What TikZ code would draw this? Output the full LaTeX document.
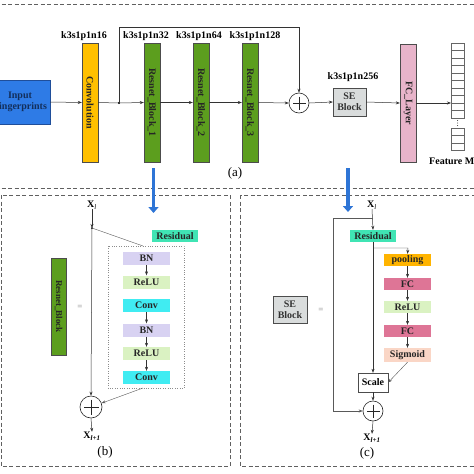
\documentclass[tikz,border=0pt]{standalone}
\usepackage{fontspec}
\setmainfont{Liberation Serif}
\usetikzlibrary{arrows.meta,calc}
\definecolor{inpblue}{HTML}{2E7BE6}
\definecolor{inpdark}{HTML}{1F4E9A}
\definecolor{convyel}{HTML}{FFC000}
\definecolor{resgreen}{HTML}{5C9E1E}
\definecolor{fcpink}{HTML}{E8B4CA}
\definecolor{segray}{HTML}{D9DCDC}
\definecolor{resteal}{HTML}{40E4B4}
\definecolor{bnlav}{HTML}{D8D2F2}
\definecolor{relugreen}{HTML}{DAF2C2}
\definecolor{convcyan}{HTML}{40ECF2}
\definecolor{poolor}{HTML}{FFB400}
\definecolor{fcrose}{HTML}{DE7596}
\definecolor{sigpeach}{HTML}{FAD6C6}
\definecolor{bluearr}{HTML}{2E75D6}
\definecolor{dashgray}{HTML}{606060}
\tikzset{
  txt/.style={font=\fontsize{10}{11}\selectfont\bfseries, inner sep=0pt},
  box/.style={draw, rectangle, inner sep=0pt, font=\fontsize{10}{11}\selectfont\bfseries, align=center},
  vbox/.style={box, draw=black!70},
  sbox/.style={rectangle, inner sep=0pt, minimum width=47pt, font=\fontsize{10}{11}\selectfont\bfseries, text=black!85},
  arr/.style={-{Stealth[length=4pt,width=3pt]}, line width=0.5pt, black!80},
  ln/.style={line width=0.5pt, black!80},
  thinln/.style={line width=0.4pt, black!65},
  oplus/.style={circle, draw=black!85, line width=0.6pt, minimum size=#1, inner sep=0pt,
    path picture={
      \draw[line width=0.7pt] ([yshift=-3.5pt]path picture bounding box.north) -- ([yshift=3.5pt]path picture bounding box.south);
      \draw[line width=0.7pt] ([xshift=-3.5pt]path picture bounding box.east) -- ([xshift=3.5pt]path picture bounding box.west);
    }},
  panel/.style={draw=dashgray, line width=0.6pt, dash pattern=on 4pt off 2.5pt},
  bigarr/.style={draw=bluearr, line width=3.5pt, -{Triangle[length=6pt,width=10pt]}},
  dot/.style={circle, fill=black, inner sep=0pt, minimum size=2.4pt},
}
\begin{document}
\begin{tikzpicture}[x=1pt, y=-1pt]
\useasboundingbox (0,0) rectangle (474,474);
\clip (0,0) rectangle (474,474);
\fill[white] (0,0) rectangle (474,474);

% panels
\draw[panel] (-5,4) -- (480,4);
\draw[panel] (-5,188) -- (480,188);
\draw[panel] (1,195) rectangle (230,466);
\draw[panel] (240,195) rectangle (480,466);

% ---------- panel (a) ----------
\node[box, fill=inpblue, draw=inpdark, minimum width=60pt, minimum height=44pt, text=inpdark!60!black] (inp) at (20,102) {Input\\Fingerprints};
\node[vbox, fill=convyel, minimum width=16pt, minimum height=119pt] (conv) at (90,102.5) {};
\node[rotate=-90, txt, text=black!85] at (conv.center) {Convolution};
\node[vbox, fill=resgreen, minimum width=16pt, minimum height=119pt] (rb1) at (152,102.5) {};
\node[rotate=-90, txt, text=black!85] at (rb1.center) {Resnet\_Block\_1};
\node[vbox, fill=resgreen, minimum width=16pt, minimum height=119pt] (rb2) at (201,102.5) {};
\node[rotate=-90, txt, text=black!85] at (rb2.center) {Resnet\_Block\_2};
\node[vbox, fill=resgreen, minimum width=16pt, minimum height=119pt] (rb3) at (250,102.5) {};
\node[rotate=-90, txt, text=black!85] at (rb3.center) {Resnet\_Block\_3};
\node[oplus=20pt] (pa) at (299,103) {};
\node[box, fill=segray, draw=black!70, minimum width=33pt, minimum height=28pt, text=black!80] (se) at (349.5,102) {SE\\Block};
\node[vbox, fill=fcpink, minimum width=16pt, minimum height=118pt] (fc) at (408,103) {};
\node[rotate=-90, txt, text=black!85] at (fc.center) {FC\_Layer};

\node[txt] (l16) at (84,36) {k3s1p1n16};
\node[txt] (l32) at (146,36) {k3s1p1n32};
\node[txt] (l64) at (199,36) {k3s1p1n64};
\node[txt] (l128) at (255,36) {k3s1p1n128};
\node[txt] (l256) at (353,77) {k3s1p1n256};
\node[txt, anchor=west] (fml) at (429,162) {Feature Map};
\node[inner sep=0pt, font=\fontsize{13}{14}\selectfont] (la) at (235,173) {(a)};

% feature map column
\foreach \i in {0,...,9} {
  \draw[black!60, line width=0.4pt] (451,43+7.5*\i) rectangle (464,43+7.5*\i+7.5);
}
\foreach \i in {0,...,2} {
  \draw[black!60, line width=0.4pt] (451,128+7.4*\i) rectangle (464,128+7.4*\i+7.4);
}
\foreach \yy in {120.5,123,125.5} {
  \fill[black!80] (457.5,\yy) circle (0.5pt);
}
\coordinate (fm) at (451,103);

% connectors (a)
\draw[arr] (inp.east) -- (conv.west);
\coordinate (br) at (119,103);
\coordinate (topc) at (119,27);
\draw[ln] (conv.east) -- (br);
\draw[arr] (br) -- (rb1.west);
\node[dot] at (br) {};
\draw[arr] (br) -- (topc) -| (pa.north);
\draw[arr] (rb1.east) -- (rb2.west);
\draw[arr] (rb2.east) -- (rb3.west);
\draw[arr] (rb3.east) -- (pa.west);
\draw[arr] (pa.east) -- (se.west);
\draw[arr] (se.east) -- (fc.west);
\draw[arr] (fc.east) -- (fm);

% blue arrows
\coordinate (ba1) at (153.5,168);
\coordinate (ba1e) at (153.5,213);
\coordinate (ba2) at (348,168);
\coordinate (ba2e) at (348,212);
\draw[bigarr] (ba1) -- (ba1e);
\draw[bigarr] (ba2) -- (ba2e);

% ---------- panel (b) ----------
\node[inner sep=0pt, font=\fontsize{10}{11}\selectfont] (xb1) at (92,205) {\textbf{X}\textsubscript{\textit{l}}};
\coordinate (b1) at (92,228);
\node[oplus=22pt] (pb) at (91,407) {};
\draw[arr] (xb1.south) -- (b1);
\node[dot, minimum size=2pt] at (b1) {};
\draw[arr] (b1) -- (pb.north);
\draw[thinln, dotted, line width=0.6pt, black!45] (108,246) rectangle (184,388);
\coordinate (dbt) at (143,246);
\coordinate (dbb) at (143,388);
\node[sbox, fill=resteal, minimum width=46pt, minimum height=12pt] (resb) at (175,236) {Residual};
\node[sbox, fill=bnlav, minimum height=13pt] (bn1) at (146.5,258.5) {BN};
\node[sbox, fill=relugreen, minimum height=13pt] (re1) at (146.5,282) {ReLU};
\node[sbox, fill=convcyan, minimum height=13pt] (cv1) at (146.5,305.5) {Conv};
\node[sbox, fill=bnlav, minimum height=13pt] (bn2) at (146.5,330) {BN};
\node[sbox, fill=relugreen, minimum height=13pt] (re2) at (146.5,353.5) {ReLU};
\node[sbox, fill=convcyan, minimum height=13pt] (cv2) at (146.5,377.5) {Conv};
\draw[arr, line width=0.4pt] (bn1.south) -- (re1.north);
\draw[arr, line width=0.4pt] (cv1.south) -- (bn2.north);
\draw[arr, line width=0.4pt] (bn2.south) -- (re2.north);
\draw[arr, line width=0.4pt] (re2.south) -- (cv2.north);
\draw[thinln] (b1) -- (dbt);
\draw[arr, black!65, line width=0.4pt] (dbb) -- (pb.20);
\node[vbox, fill=resgreen, minimum width=15pt, minimum height=97pt] (rbk) at (58.5,306.5) {};
\node[rotate=-90, txt, text=black!85, font=\fontsize{9}{10}\selectfont\bfseries] at (rbk.center) {Resnet\_Block};
\node[inner sep=0pt, text=black!50, font=\fontsize{9}{10}\selectfont] (eqb) at (80,307) {=};
\node[inner sep=0pt, font=\fontsize{10}{11}\selectfont] (xb2) at (92,436) {\textbf{X}\textsubscript{\textbf{\textit{l+1}}}};
\draw[arr] (pb.south) -- (xb2.north);
\node[inner sep=0pt, font=\fontsize{13}{14}\selectfont] (lb) at (105,452) {(b)};

% ---------- panel (c) ----------
\node[inner sep=0pt, font=\fontsize{10}{11}\selectfont] (xc1) at (372,205) {\textbf{X}\textsubscript{\textit{l}}};
\node[sbox, fill=resteal, minimum width=46pt, minimum height=12pt] (resc) at (373,236) {Residual};
\coordinate (c1) at (373,218);
\coordinate (cl1) at (333,218);
\coordinate (cl2) at (333,411);
\node[oplus=20pt] (pc) at (373,411) {};
\draw[arr] (xc1.south) -- (resc.north);
\draw[thinln] (c1) -- (cl1) -- (cl2);
\draw[arr, black!65, line width=0.4pt] (cl2) -- (pc.west);
\node[sbox, fill=poolor, minimum height=12pt] (pool) at (407.5,260) {pooling};
\node[sbox, fill=fcrose, minimum height=12pt] (fc1) at (407.5,284) {FC};
\node[sbox, fill=relugreen, minimum height=12pt] (rel) at (407.5,307) {ReLU};
\node[sbox, fill=fcrose, minimum height=12pt] (fc2) at (407.5,331) {FC};
\node[sbox, fill=sigpeach, minimum height=14pt] (sig) at (407.5,355) {Sigmoid};
\node[box, fill=white, draw=black!70, minimum width=30pt, minimum height=19pt] (scale) at (373,382.5) {Scale};
\coordinate (c2) at (373,248);
\coordinate (c3) at (408,248);
\draw[arr, line width=0.4pt] (resc.south) -- (scale.north);
\draw[arr, line width=0.4pt] (c2) -- (c3) -- (pool.north);
\draw[arr, line width=0.4pt] (pool.south) -- (fc1.north);
\draw[arr, line width=0.4pt] (fc1.south) -- (rel.north);
\draw[arr, line width=0.4pt] (rel.south) -- (fc2.north);
\draw[arr, line width=0.4pt] (fc2.south) -- (sig.north);
\draw[arr, black!65, line width=0.4pt] (sig.south) -- (scale.east);
\draw[arr] (scale.south) -- (pc.north);
\node[inner sep=0pt, font=\fontsize{10}{11}\selectfont] (xc2) at (372,438) {\textbf{X}\textsubscript{\textbf{\textit{l+1}}}};
\draw[arr] (pc.south) -- (xc2.north);
\node[inner sep=0pt, font=\fontsize{13}{14}\selectfont] (lc) at (367,453) {(c)};
\node[box, fill=segray, draw=black!70, minimum width=34pt, minimum height=27pt, text=black!80] (sec) at (290,309.5) {SE\\Block};
\node[inner sep=0pt, text=black!50, font=\fontsize{9}{10}\selectfont] (eqc) at (321,310) {=};
\end{tikzpicture}
\end{document}
